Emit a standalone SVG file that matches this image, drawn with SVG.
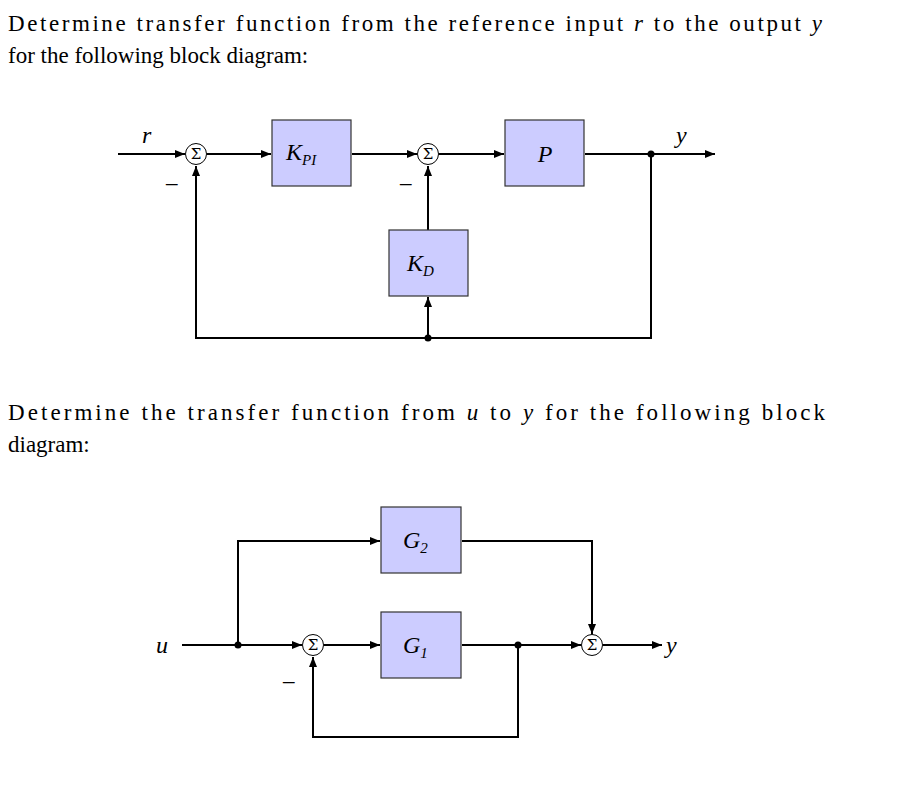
<svg xmlns="http://www.w3.org/2000/svg" width="922" height="792" viewBox="0 0 922 792">
<style>
.t{font-family:"Liberation Serif",serif;font-size:23px;fill:#000}
.m{font-family:"Liberation Serif",serif;font-style:italic;font-size:24px;fill:#000}
.s{font-family:"Liberation Serif",serif;font-style:italic;font-size:15px}
.sg{font-family:"DejaVu Serif",serif;font-size:15px;fill:#000}
.box{fill:#ccccff;stroke:#333;stroke-width:1.2}
.sum{fill:#fff;stroke:#000;stroke-width:1}
.w{fill:none;stroke:#000;stroke-width:2}
</style>
<defs>
<marker id="a" markerWidth="10" markerHeight="8" refX="10" refY="4" orient="auto" markerUnits="userSpaceOnUse"><path d="M0,0L10,4L0,8z" fill="#000"/></marker>
</defs>
<rect width="922" height="792" fill="#fff"/>
<text class="t" x="8" y="31" textLength="814" lengthAdjust="spacing">Determine transfer function from the reference input <tspan font-style="italic">r</tspan> to the output <tspan font-style="italic">y</tspan></text>
<text class="t" x="8" y="63">for the following block diagram:</text>
<text class="t" x="8" y="420" textLength="817" lengthAdjust="spacing">Determine the transfer function from <tspan font-style="italic">u</tspan> to <tspan font-style="italic">y</tspan> for the following block</text>
<text class="t" x="8" y="452">diagram:</text>

<g id="connectors">
<path class="w" d="M118,154H185" marker-end="url(#a)"/>
<path class="w" d="M207,154H271" marker-end="url(#a)"/>
<path class="w" d="M352,154H417" marker-end="url(#a)"/>
<path class="w" d="M439,154H504" marker-end="url(#a)"/>
<path class="w" d="M585,154H715" marker-end="url(#a)"/>
<path class="w" d="M651,154V338H196V166" marker-end="url(#a)"/>
<path class="w" d="M428,338V297" marker-end="url(#a)"/>
<path class="w" d="M428,230V166" marker-end="url(#a)"/>
<circle cx="651" cy="154" r="3.5"/>
<circle cx="428" cy="338" r="3.5"/>

<path class="w" d="M182,645H302" marker-end="url(#a)"/>
<path class="w" d="M324,645H380" marker-end="url(#a)"/>
<path class="w" d="M462,645H581" marker-end="url(#a)"/>
<path class="w" d="M603,645H662" marker-end="url(#a)"/>
<path class="w" d="M238,645V541H380" marker-end="url(#a)"/>
<path class="w" d="M462,541H592V634" marker-end="url(#a)"/>
<path class="w" d="M518,645V737H313V657" marker-end="url(#a)"/>
<circle cx="238" cy="645" r="3.5"/>
<circle cx="518" cy="645" r="3.5"/>
</g>

<text class="m" x="142" y="143">r</text>
<text class="m" x="676" y="143">y</text>
<text class="t" x="166" y="190">–</text>
<text class="t" x="400" y="190">–</text>
<text class="m" x="156" y="653">u</text>
<text class="m" x="666" y="653">y</text>
<text class="t" x="283" y="688">–</text>

<g id="sum1"><circle class="sum" cx="196" cy="154" r="10.5"/><text class="sg" x="196" y="159" text-anchor="middle">Σ</text></g>
<g id="kpi"><rect class="box" x="272" y="120" width="79" height="66"/><text class="m" x="286" y="160">K<tspan class="s" dy="5">PI</tspan></text></g>
<g id="sum2"><circle class="sum" cx="428" cy="154" r="10.5"/><text class="sg" x="428" y="159" text-anchor="middle">Σ</text></g>
<g id="p"><rect class="box" x="505" y="120" width="79" height="66"/><text class="m" x="545" y="162" text-anchor="middle">P</text></g>
<g id="kd"><rect class="box" x="389" y="230" width="79" height="66"/><text class="m" x="407" y="271">K<tspan class="s" dy="5">D</tspan></text></g>

<g id="g2"><rect class="box" x="381" y="507" width="80" height="66"/><text class="m" x="403" y="548">G<tspan class="s" font-style="normal" dy="5">2</tspan></text></g>
<g id="g1"><rect class="box" x="381" y="612" width="80" height="66"/><text class="m" x="403" y="653">G<tspan class="s" font-style="normal" dy="5">1</tspan></text></g>
<g id="sum3"><circle class="sum" cx="313" cy="645" r="10.5"/><text class="sg" x="313" y="650" text-anchor="middle">Σ</text></g>
<g id="sum4"><circle class="sum" cx="592" cy="645" r="10.5"/><text class="sg" x="592" y="650" text-anchor="middle">Σ</text></g>
</svg>
